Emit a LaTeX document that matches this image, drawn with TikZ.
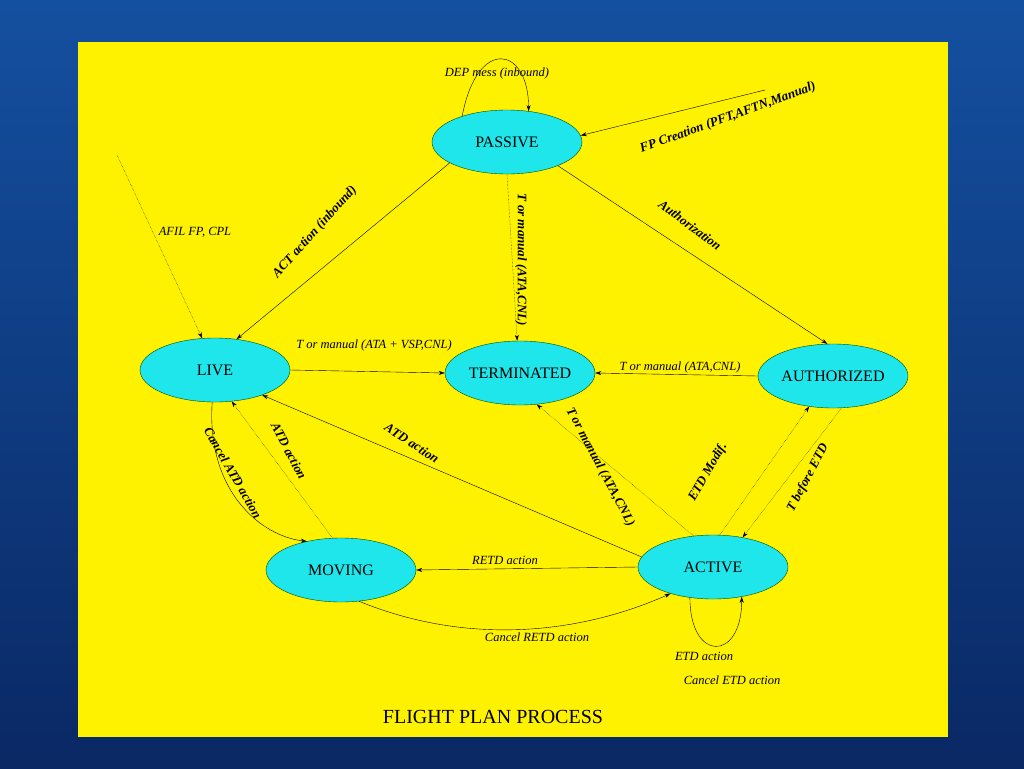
\documentclass[tikz,border=0pt]{standalone}
\usepackage{fontspec}
\setmainfont{Liberation Serif}
\usetikzlibrary{shapes.geometric,arrows.meta}
\definecolor{bgblue}{RGB}{20,80,160}
\definecolor{bgdark}{RGB}{10,40,100}
\definecolor{cy}{RGB}{30,230,235}
\begin{document}
\begin{tikzpicture}[x=1pt,y=-1pt,
  st/.style={ellipse,draw=black!70!green,fill=cy,minimum width=150pt,minimum height=64pt,inner sep=0pt,font=\fontsize{16}{16}\selectfont},
  ed/.style={-{Stealth[length=6pt,width=4pt]},thin},
  dt/.style={ed,densely dotted},
  lb/.style={font=\fontsize{12.5}{12.5}\selectfont\itshape},
  bl/.style={font=\fontsize{13}{13}\selectfont\itshape\bfseries}]
\useasboundingbox (0,0) rectangle (1024,768);
\shade[top color=bgblue,bottom color=bgdark] (0,0) rectangle (1024,768);
\fill[yellow] (78,42) rectangle (948,737);
\node[st] (passive) at (507,142) {PASSIVE};
\node[st] (live) at (215,370) {LIVE};
\node[st] (term) at (520,373) {TERMINATED};
\node[st] (auth) at (833,376) {AUTHORIZED};
\node[st] (moving) at (341,570) {MOVING};
\node[st] (active) at (713,567) {ACTIVE};
\coordinate (fp) at (765,90);
\coordinate (afil) at (117,155);
% passive
\draw[ed] (passive.150) .. controls +(15,-80) and +(0,-65) .. (passive.55);
\node[lb] (l1) at (497,73) {DEP mess (inbound)};
\draw[ed] (fp) -- (passive.5);
\node[bl,rotate=20] (l2) at (728,118) {FP Creation (PFT,AFTN,Manual)};
\draw[ed] (passive.200) -- (live.55);
\node[bl,rotate=48] (l3) at (315,232) {ACT action (inbound)};
\draw[dt] (passive.-90) -- (term.95);
\node[bl,rotate=-90] (l4) at (521,260) {T or manual (ATA,CNL)};
\draw[ed] (passive.-25) -- (auth.100);
\node[bl,rotate=-37] (l5) at (690,225) {Authorization};
\draw[dt] (afil) -- (live.112);
\node[lb] (l6) at (195,232) {AFIL FP, CPL};
% middle row
\draw[ed] (live.0) -- (term.180);
\node[lb] (l7) at (374,345) {T or manual (ATA + VSP,CNL)};
\draw[ed] (auth.180) -- (term.0);
\node[lb] (l8) at (680,367) {T or manual (ATA,CNL)};
% diagonals
\draw[ed] (active.172) -- (live.-28);
\node[bl,rotate=-33] (l9) at (412,443) {ATD action};
\draw[dt] (active.122) -- (term.-62);
\node[bl,rotate=-62] (l10) at (600,467) {T or manual (ATA,CNL)};
\draw[dt] (active.78) -- (auth.-128);
\node[bl,rotate=60] (l11) at (708,472) {ETD Modif.};
\draw[dt] (auth.-75) -- (active.45);
\node[bl,rotate=62] (l12) at (808,478) {T before ETD};
\draw[dt] (moving.105) -- (live.-62);
\node[bl,rotate=-62] (l13) at (289,451) {ATD action};
\draw[ed] (live.-95) .. controls +(-6,90) and +(-45,-5) .. (moving.140);
\node[bl,rotate=-60] (l14) at (233,473) {Cancel ATD action};
% bottom
\draw[ed] (active.180) -- (moving.0);
\node[lb] (l15) at (505,560) {RETD action};
\draw[ed] (moving.-60) .. controls +(110,45) and +(-90,40) .. (active.-148);
\node[lb] (l16) at (537,637) {Cancel RETD action};
\draw[ed] (active.-127) .. controls +(0,65) and +(0,65) .. (active.-46);
\node[lb] (l17) at (704,656) {ETD action};
\node[lb] (l18) at (732,680) {Cancel ETD action};
\node[font=\fontsize{20}{20}\selectfont] (title) at (493,717) {FLIGHT PLAN PROCESS};
\end{tikzpicture}
\end{document}
